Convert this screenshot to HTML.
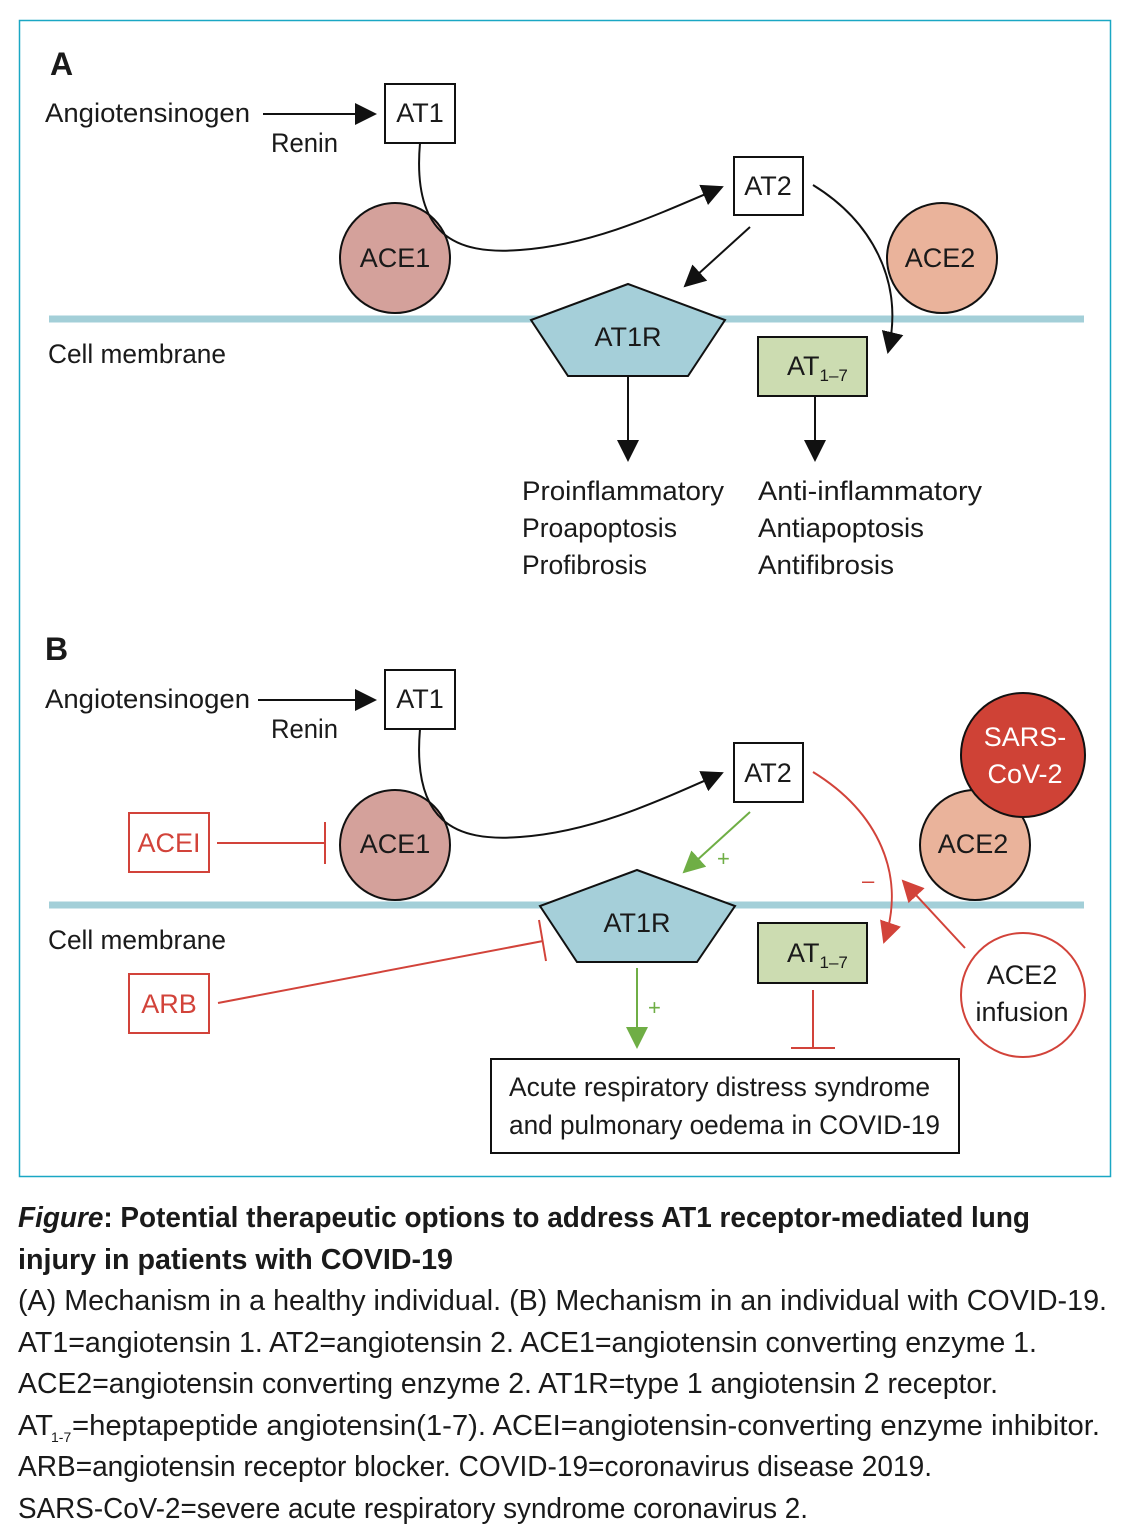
<!DOCTYPE html>
<html><head><meta charset="utf-8"><style>
html,body{margin:0;padding:0;background:#fff;}
svg{display:block;font-family:"Liberation Sans",sans-serif;}
</style></head><body>
<svg width="1129" height="1536" viewBox="0 0 1129 1536" xmlns="http://www.w3.org/2000/svg">
<defs>
<marker id="ak" markerWidth="10" markerHeight="10" refX="9" refY="5" orient="auto" markerUnits="userSpaceOnUse" viewBox="0 0 10 10"><path d="M0,0 L10,5 L0,10z" fill="#111"/></marker>
<marker id="akb" markerWidth="22" markerHeight="22" refX="20" refY="11" orient="auto" markerUnits="userSpaceOnUse" viewBox="0 0 22 22"><path d="M0,0 L22,11 L0,22z" fill="#111"/></marker>
<marker id="ag" markerWidth="22" markerHeight="22" refX="20" refY="11" orient="auto" markerUnits="userSpaceOnUse" viewBox="0 0 22 22"><path d="M0,0 L22,11 L0,22z" fill="#6fae45"/></marker>
<marker id="ar" markerWidth="22" markerHeight="22" refX="20" refY="11" orient="auto" markerUnits="userSpaceOnUse" viewBox="0 0 22 22"><path d="M0,0 L22,11 L0,22z" fill="#d2433a"/></marker>
</defs>
<rect x="19.5" y="20.5" width="1091" height="1156" fill="none" stroke="#1aa7c4" stroke-width="1.5"/>

<g font-size="27" fill="#1a1a1a">
<!-- Panel A -->
<text x="50" y="75" font-size="32" font-weight="bold">A</text>
<text x="45" y="122" textLength="205" lengthAdjust="spacingAndGlyphs">Angiotensinogen</text>
<line x1="263" y1="114" x2="375" y2="114" stroke="#111" stroke-width="2" marker-end="url(#akb)"/>
<text x="271" y="152" textLength="67" lengthAdjust="spacingAndGlyphs">Renin</text>
<rect x="385" y="84" width="70" height="59" fill="#fff" stroke="#111" stroke-width="2"/>
<text x="420" y="122" text-anchor="middle">AT1</text>
<line x1="49" y1="319" x2="1084" y2="319" stroke="#a3cfd8" stroke-width="7"/>
<circle cx="395" cy="258" r="55" fill="#d4a19b" stroke="#111" stroke-width="2"/>
<text x="395" y="267" text-anchor="middle">ACE1</text>
<circle cx="942" cy="258" r="55" fill="#eab39b" stroke="#111" stroke-width="2"/>
<text x="940" y="267" text-anchor="middle">ACE2</text>
<path d="M420,143 C412,235 455,255 520,250 C590,245 650,218 722,187" fill="none" stroke="#111" stroke-width="2" marker-end="url(#akb)"/>
<rect x="734" y="157" width="69" height="58" fill="#fff" stroke="#111" stroke-width="2"/>
<text x="768" y="195" text-anchor="middle">AT2</text>
<line x1="750" y1="227" x2="685" y2="286" stroke="#111" stroke-width="2" marker-end="url(#akb)"/>
<path d="M813,185 C870,220 905,280 888,352" fill="none" stroke="#111" stroke-width="2" marker-end="url(#akb)"/>
<polygon points="628,284 725,320 688,376 568,376 531,320" fill="#a5cfd9" stroke="#111" stroke-width="2"/>
<text x="628" y="346" text-anchor="middle">AT1R</text>
<rect x="758" y="337" width="109" height="59" fill="#ccdcb1" stroke="#111" stroke-width="2"/>
<text x="787" y="375">AT<tspan font-size="17" dy="6">1–7</tspan></text>
<text x="48" y="363" textLength="178" lengthAdjust="spacingAndGlyphs">Cell membrane</text>
<line x1="628" y1="376" x2="628" y2="460" stroke="#111" stroke-width="2" marker-end="url(#akb)"/>
<line x1="815" y1="396" x2="815" y2="460" stroke="#111" stroke-width="2" marker-end="url(#akb)"/>
<text x="522" y="500" textLength="202" lengthAdjust="spacingAndGlyphs">Proinflammatory</text>
<text x="522" y="537" textLength="155" lengthAdjust="spacingAndGlyphs">Proapoptosis</text>
<text x="522" y="574" textLength="125" lengthAdjust="spacingAndGlyphs">Profibrosis</text>
<text x="758" y="500" textLength="224" lengthAdjust="spacingAndGlyphs">Anti-inflammatory</text>
<text x="758" y="537" textLength="166" lengthAdjust="spacingAndGlyphs">Antiapoptosis</text>
<text x="758" y="574" textLength="136" lengthAdjust="spacingAndGlyphs">Antifibrosis</text>

<!-- Panel B -->
<text x="45" y="660" font-size="32" font-weight="bold">B</text>
<text x="45" y="708" textLength="205" lengthAdjust="spacingAndGlyphs">Angiotensinogen</text>
<line x1="258" y1="700" x2="375" y2="700" stroke="#111" stroke-width="2" marker-end="url(#akb)"/>
<text x="271" y="738" textLength="67" lengthAdjust="spacingAndGlyphs">Renin</text>
<rect x="385" y="670" width="70" height="59" fill="#fff" stroke="#111" stroke-width="2"/>
<text x="420" y="708" text-anchor="middle">AT1</text>
<line x1="49" y1="905" x2="1084" y2="905" stroke="#a3cfd8" stroke-width="7"/>
<circle cx="395" cy="845" r="55" fill="#d4a19b" stroke="#111" stroke-width="2"/>
<text x="395" y="853" text-anchor="middle">ACE1</text>
<path d="M420,729 C412,822 455,842 520,837 C590,832 650,805 722,773" fill="none" stroke="#111" stroke-width="2" marker-end="url(#akb)"/>
<rect x="734" y="743" width="69" height="59" fill="#fff" stroke="#111" stroke-width="2"/>
<text x="768" y="782" text-anchor="middle">AT2</text>
<circle cx="975" cy="845" r="55" fill="#eab39b" stroke="#111" stroke-width="2"/>
<text x="973" y="853" text-anchor="middle">ACE2</text>
<circle cx="1023" cy="755" r="62" fill="#cf4236" stroke="#111" stroke-width="2"/>
<text x="1025" y="746" text-anchor="middle" fill="#fff">SARS-</text>
<text x="1025" y="783" text-anchor="middle" fill="#fff">CoV-2</text>
<rect x="129" y="813" width="80" height="59" fill="#fff" stroke="#d2433a" stroke-width="2"/>
<text x="169" y="852" text-anchor="middle" fill="#d2433a">ACEI</text>
<line x1="217" y1="843" x2="325" y2="843" stroke="#d2433a" stroke-width="2"/>
<line x1="325" y1="822" x2="325" y2="864" stroke="#d2433a" stroke-width="2"/>
<rect x="129" y="974" width="80" height="59" fill="#fff" stroke="#d2433a" stroke-width="2"/>
<text x="169" y="1013" text-anchor="middle" fill="#d2433a">ARB</text>
<line x1="218" y1="1003" x2="543" y2="941" stroke="#d2433a" stroke-width="2"/>
<line x1="539" y1="920" x2="546" y2="961" stroke="#d2433a" stroke-width="2"/>
<text x="48" y="949" textLength="178" lengthAdjust="spacingAndGlyphs">Cell membrane</text>
<polygon points="637,870 735,906 697,962 577,962 540,906" fill="#a5cfd9" stroke="#111" stroke-width="2"/>
<text x="637" y="932" text-anchor="middle">AT1R</text>
<line x1="750" y1="812" x2="684" y2="872" stroke="#6fae45" stroke-width="2" marker-end="url(#ag)"/>
<text x="717" y="866" fill="#6fae45" font-size="22">+</text>
<path d="M813,772 C878,812 907,875 884,942" fill="none" stroke="#d2433a" stroke-width="2" marker-end="url(#ar)"/>
<text x="862" y="888" fill="#d2433a" font-size="22">–</text>
<rect x="758" y="923" width="109" height="60" fill="#ccdcb1" stroke="#111" stroke-width="2"/>
<text x="787" y="962">AT<tspan font-size="17" dy="6">1–7</tspan></text>
<circle cx="1023" cy="995" r="62" fill="#fff" stroke="#d2433a" stroke-width="2"/>
<text x="1022" y="984" text-anchor="middle">ACE2</text>
<text x="1022" y="1021" text-anchor="middle">infusion</text>
<line x1="965" y1="948" x2="903" y2="881" stroke="#d2433a" stroke-width="2" marker-end="url(#ar)"/>
<line x1="637" y1="968" x2="637" y2="1047" stroke="#6fae45" stroke-width="2" marker-end="url(#ag)"/>
<text x="648" y="1015" fill="#6fae45" font-size="22">+</text>
<line x1="813" y1="990" x2="813" y2="1048" stroke="#d2433a" stroke-width="2"/>
<line x1="791" y1="1048" x2="835" y2="1048" stroke="#d2433a" stroke-width="2"/>
<rect x="491" y="1059" width="468" height="94" fill="#fff" stroke="#111" stroke-width="2"/>
<text x="509" y="1096" textLength="421" lengthAdjust="spacingAndGlyphs">Acute respiratory distress syndrome</text>
<text x="509" y="1134" textLength="431" lengthAdjust="spacingAndGlyphs">and pulmonary oedema in COVID-19</text>
</g>

<!-- Caption -->
<g font-size="29" fill="#1a1a1a">
<text x="18" y="1227" font-weight="bold" textLength="1012" lengthAdjust="spacingAndGlyphs"><tspan font-style="italic">Figure</tspan>: Potential therapeutic options to address AT1 receptor-mediated lung</text>
<text x="18" y="1269" font-weight="bold" textLength="435" lengthAdjust="spacingAndGlyphs">injury in patients with COVID-19</text>
<text x="18" y="1310" textLength="1089" lengthAdjust="spacingAndGlyphs">(A) Mechanism in a healthy individual. (B) Mechanism in an individual with COVID-19.</text>
<text x="18" y="1352" textLength="1019" lengthAdjust="spacingAndGlyphs">AT1=angiotensin 1. AT2=angiotensin 2. ACE1=angiotensin converting enzyme 1.</text>
<text x="18" y="1393" textLength="980" lengthAdjust="spacingAndGlyphs">ACE2=angiotensin converting enzyme 2. AT1R=type 1 angiotensin 2 receptor.</text>
<text x="18" y="1435">AT</text>
<text x="51" y="1442" font-size="14">1-7</text>
<text x="72" y="1435" textLength="1028" lengthAdjust="spacingAndGlyphs">=heptapeptide angiotensin(1-7). ACEI=angiotensin-converting enzyme inhibitor.</text>
<text x="18" y="1476" textLength="914" lengthAdjust="spacingAndGlyphs">ARB=angiotensin receptor blocker. COVID-19=coronavirus disease 2019.</text>
<text x="18" y="1518" textLength="790" lengthAdjust="spacingAndGlyphs">SARS-CoV-2=severe acute respiratory syndrome coronavirus 2.</text>
</g>
</svg>
</body></html>
